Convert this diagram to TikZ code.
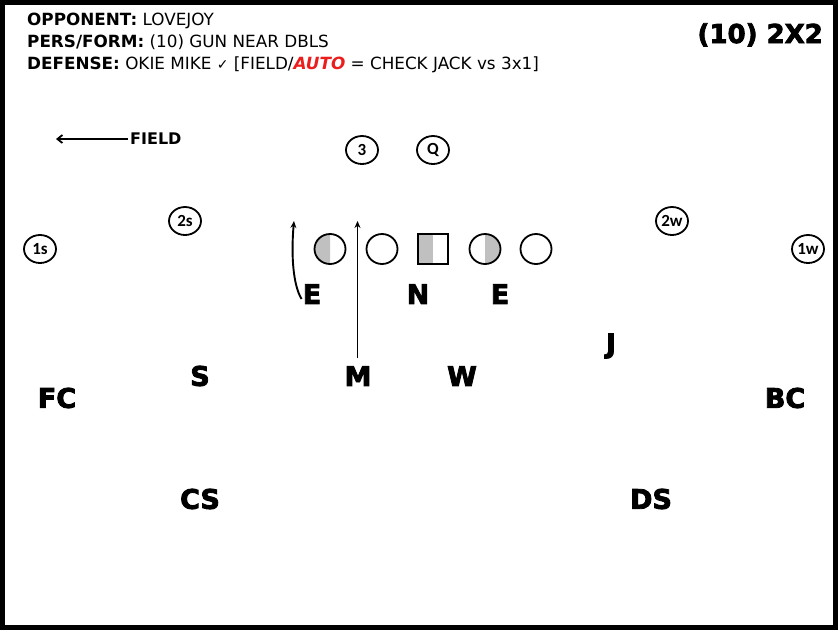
\documentclass[tikz,border=0pt]{standalone}
\usepackage{fontspec}
\setmainfont{DejaVu Sans}
\newfontfamily\lblfont{Carlito}
\newfontfamily\blackfont[FakeBold=3]{DejaVu Sans Bold}
\usetikzlibrary{arrows.meta,shapes.geometric}
\definecolor{fillgray}{RGB}{192,192,192}
\definecolor{autored}{RGB}{235,30,30}
\tikzset{
  hdr/.style={anchor=base west, inner sep=0pt, font=\fontsize{16.8}{18}\selectfont},
  plr/.style={draw, line width=1.8pt, ellipse, minimum width=32pt, minimum height=28pt, inner sep=0pt},
  rec/.style={plr, font=\lblfont\bfseries\fontsize{17}{18}\selectfont},
  olm/.style={plr, minimum width=31pt, minimum height=30pt},
  dfn/.style={font=\blackfont\fontsize{27}{30}\selectfont, inner sep=0pt},
  route/.style={line width=1.9pt, -{Stealth[length=7pt,width=6pt]}},
}
\begin{document}
\begin{tikzpicture}[x=1pt,y=-1pt]
\useasboundingbox (0,0) rectangle (840,630);
\draw[line width=5pt] (2.5,2) rectangle (835,627);
% header
\node[hdr] (h1) at (27,25) {\textbf{OPPONENT:} LOVEJOY};
\node[hdr] (h2) at (27,47) {\textbf{PERS/FORM:} (10) GUN NEAR DBLS};
\node[hdr] (h3) at (27,69) {\textbf{DEFENSE:} OKIE MIKE {\fontsize{14}{14}\selectfont ✓} [FIELD/\textcolor{autored}{\textbf{\textit{AUTO}}} = CHECK JACK vs 3x1]};
\node[anchor=base east, inner sep=0pt, font=\blackfont\fontsize{26}{30}\selectfont] (title) at (823,43) {(10) 2X2};
% field arrow
\node[anchor=west, inner sep=0pt, font=\bfseries\fontsize{16}{18}\selectfont] (field) at (130,139) {FIELD};
\coordinate (fieldend) at (56,139);
\draw[line width=1.8pt, -{Straight Barb[length=5pt,width=8pt]}] ([xshift=-2pt]field.west) -- (fieldend);
% receivers / backs
\node[rec] (r1s) at (40,249) {1s};
\node[rec] (r2s) at (185,221) {2s};
\node[rec] (r3) at (362,150) {3};
\node[rec] (rQ) at (433,150) {Q};
\node[rec] (r2w) at (672,221) {2w};
\node[rec] (r1w) at (808,249) {1w};
% offensive line
\begin{scope}
\clip (310,230) rectangle (330,268);
\fill[fillgray] (330,249) ellipse[x radius=15.5, y radius=15];
\end{scope}
\begin{scope}
\clip (485,230) rectangle (505,268);
\fill[fillgray] (485,249) ellipse[x radius=15.5, y radius=15];
\end{scope}
\fill[fillgray] (418,234) rectangle (433,264);
\node[olm] (ol1) at (330,249) {};
\node[olm] (ol2) at (382,249) {};
\node[draw, line width=1.8pt, minimum width=30pt, minimum height=30pt, inner sep=0pt] (ctr) at (433,249) {};
\node[olm] (ol4) at (485,249) {};
\node[olm] (ol5) at (536,249) {};
% defense
\node[dfn] (dE1) at (312,294) {E};
\node[dfn] (dN) at (418,294) {N};
\node[dfn] (dE2) at (500,294) {E};
\node[dfn] (dJ) at (611,346) {J};
\node[dfn] (dS) at (200,376) {S};
\node[dfn] (dM) at (358,376) {M};
\node[dfn] (dW) at (462,376) {W};
\node[dfn] (dFC) at (57,398) {FC};
\node[dfn] (dBC) at (785,398) {BC};
\node[dfn] (dCS) at (200,499) {CS};
\node[dfn] (dDS) at (651,499) {DS};
% routes
\coordinate (e1top) at (294,221);
\coordinate (mtop) at (357.5,221);
\draw[route] ([xshift=-1pt,yshift=-5pt]dE1.west) .. controls (293,285) and (291,255) .. (e1top);
\draw[route] ([xshift=-0.5pt,yshift=8pt]dM.north) -- (mtop);
\end{tikzpicture}
\end{document}
